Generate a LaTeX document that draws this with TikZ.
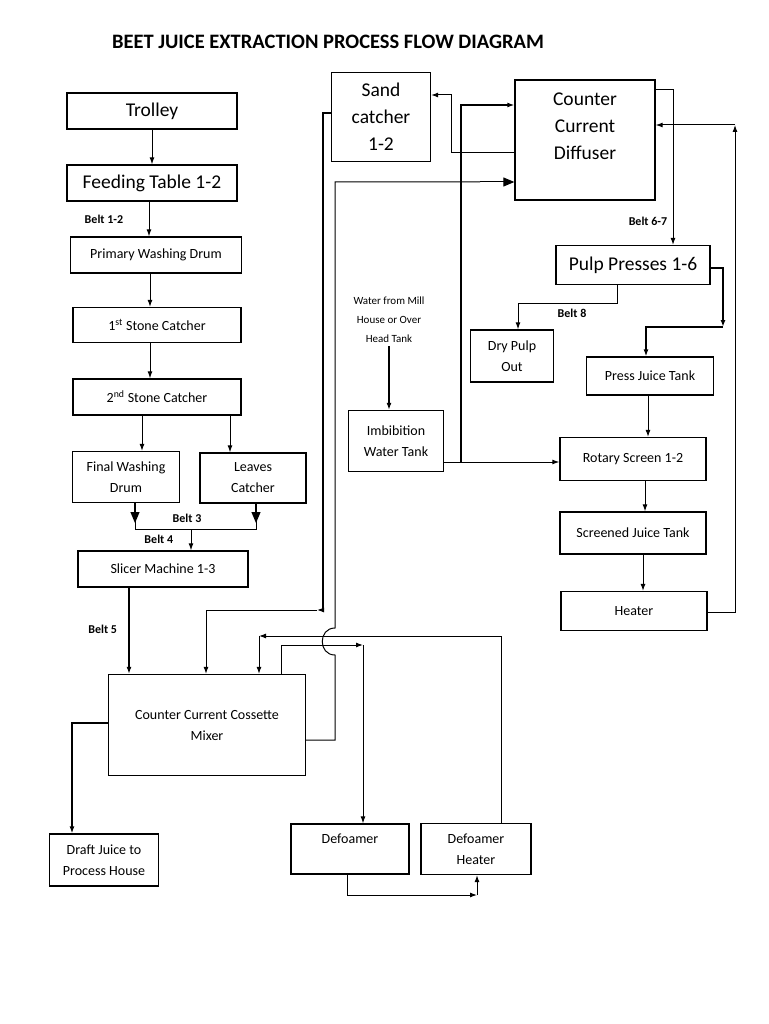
\documentclass[tikz,border=0pt]{standalone}
\usepackage{fontspec}
\setmainfont{Carlito}
\usetikzlibrary{arrows.meta}
\tikzset{
  box/.style={draw, line width=1.3pt, align=center, inner sep=2pt, font=\fontsize{14}{21}\selectfont},
  bigbox/.style={box, font=\fontsize{19.5}{27}\selectfont},
  lbl/.style={font=\bfseries\fontsize{12}{13}\selectfont},
  flow/.style={-{Latex[length=7pt,width=5pt]}, line width=1pt},
  belt/.style={-{Triangle[length=11pt,width=9pt]}, line width=1.2pt}
}
\newcommand{\bx}[6][box]{\node[#1, minimum width=#4pt, minimum height=#5pt] (#2) at #3 {#6};}
\begin{document}
\begin{tikzpicture}[x=1pt, y=-1pt]
        \useasboundingbox (0,0) rectangle (768,1024);
        % Titulo
        \node[font=\bfseries\fontsize{20.5}{22}\selectfont] (title) at (328,42) {BEET JUICE EXTRACTION PROCESS FLOW DIAGRAM};
        % Coluna esquerda
        \bx[bigbox]{trolley}{(152,111)}{170}{36}{Trolley}
        \bx[bigbox]{feed}{(152,183)}{170}{36}{Feeding Table 1-2}
        \bx{prim}{(156,255)}{171}{36}{Primary Washing Drum}
        \bx{stone1}{(157,325)}{168}{35}{1\textsuperscript{st} Stone Catcher}
        \bx{stone2}{(157,397)}{168}{36}{2\textsuperscript{nd} Stone Catcher}
        \bx{final}{(126,477)}{107}{51}{Final Washing\\Drum}
        \bx{leaves}{(253,478)}{106}{50}{Leaves\\Catcher}
        \bx{slicer}{(163,569)}{170}{36}{Slicer Machine 1-3}
        \bx{mixer}{(207,725)}{197}{101}{Counter Current Cossette\\Mixer}
        \bx{draft}{(104,860)}{109}{52}{Draft Juice to\\Process House}
        \bx{defoam}{(350,849)}{118}{50}{Defoamer\\\phantom{X}}
        \bx{dheater}{(476,849)}{110}{51}{Defoamer\\Heater}
        % Coluna direita
        \bx[bigbox]{sand}{(381,117)}{99}{89}{Sand\\catcher\\1-2}
        \bx[bigbox]{diffuser}{(585,140)}{140}{120}{Counter\\Current\\Diffuser\\\phantom{X}}
        \bx[bigbox]{presses}{(633,265)}{154}{39}{Pulp Presses 1-6}
        \bx{drypulp}{(512,356)}{83}{52}{Dry Pulp\\Out}
        \bx{pjtank}{(650,376)}{127}{38}{Press Juice Tank}
        \bx{imbib}{(396,441)}{95}{61}{Imbibition\\Water Tank}
        \bx{rotary}{(633,459)}{146}{43}{Rotary Screen 1-2}
        \bx{sjtank}{(633,533)}{146}{42}{Screened Juice Tank}
        \bx{heater}{(634,611)}{146}{39}{Heater}
        \node[align=center, font=\fontsize{11}{19}\selectfont] (water) at (389,320) {Water from Mill\\House or Over\\Head Tank};
        % Esteiras
        \draw[flow] (trolley.south) -- (feed.north);
        \draw[flow] (feed.south -| 149,0) -- (prim.north -| 149,0) node[lbl, midway, left=22pt] {Belt 1-2};
        \draw[flow] (prim.south -| 150,0) -- (stone1.north -| 150,0);
        \draw[flow] (stone1.south -| 150,0) -- (stone2.north -| 150,0);
        \draw[flow] (stone2.south -| 142,0) -- (final.north -| 142,0);
        \draw[flow] (stone2.south -| 230,0) -- (leaves.north -| 230,0);
        \coordinate (b3l) at (135,529);
        \coordinate (b3r) at (256,529);
        \draw[belt] (final.south -| b3l) -- (135,523);
        \draw[belt] (leaves.south -| b3r) -- (256,523);
        \draw[line width=0.8pt] (135,521) -- (b3l) -- (b3r) -- (256,521);
        \node[lbl] (belt3) at (187,518) {Belt 3};
        \draw[flow] (191,529) -- (slicer.north -| 191,0) node[lbl, midway, left=14pt] {Belt 4};
        \draw[flow, line width=1.4pt] (slicer.south -| 129,0) -- (mixer.north -| 129,0) node[lbl, pos=0.48, left=8pt] {Belt 5};
        % Areia para o misturador
        \coordinate (sandturn) at (323,610);
        \draw[line width=1.4pt] (sand.west |- 0,113) -- (323,113) -- (sandturn);
        \draw[flow] (sandturn) -- (317,610);
        \draw[flow] (317,610) -- (206,610) -- (mixer.north -| 206,0);
        % Misturador para o difusor (com salto)
        \draw[line width=1pt] (mixer.east |- 0,740) -- (335,740) -- (335,655) .. controls (318,655) and (318,628) .. (335,628) -- (335,182) -- (480,182);
        \draw[-{Triangle[length=11pt,width=9pt]}, line width=1pt] (480,182) -- (diffuser.west |- 0,182);
        % Aquecedor do antiespumante
        \draw[line width=1pt] (dheater.north -| 501,0) -- (501,636) -- (300,636);
        \draw[flow] (300,636) -- (259,636);
        \draw[flow] (259,636) -- (mixer.north -| 259,0);
        \draw[flow] (mixer.north -| 281,0) -- (281,645) -- (363,645);
        \draw[flow] (363,645) -- (defoam.north -| 363,0);
        \draw[flow] (defoam.south -| 347,0) -- (347,895) -- (477,895);
        \draw[flow] (477,895) -- (dheater.south -| 477,0);
        % Caldo de difusao
        \draw[flow, line width=1.4pt] (mixer.west |- 0,723) -- (72,723) -- (draft.north -| 72,0);
        % Difusor
        \draw[flow] (diffuser.west |- 0,153) -- (451,153) -- (451,95) -- (sand.east |- 0,95);
        \draw[flow, line width=1.4pt] (water.south) -- (imbib.north -| water.south);
        \draw[flow] (imbib.east |- 0,462) -- (rotary.west |- 0,462);
        \draw[flow, line width=1.4pt] (461,462) -- (461,105) -- (diffuser.west |- 0,105);
        \draw[flow] (diffuser.east |- 0,90) -- (673,90) -- (presses.north -| 673,0) node[lbl, pos=0.85, left=2pt] {Belt 6-7};
        \draw[flow] (presses.south -| 617,0) -- (617,303) -- (518,303) -- (drypulp.north -| 518,0);
        \node[lbl] (belt8) at (572,313) {Belt 8};
        \draw[flow, line width=1.4pt] (presses.east |- 0,268) -- (723,268) -- (723,327);
        \draw[flow, line width=1.4pt] (723,327) -- (646,327) -- (pjtank.north -| 646,0);
        \draw[flow] (pjtank.south -| 648,0) -- (rotary.north -| 648,0);
        \draw[flow] (rotary.south -| 645,0) -- (sjtank.north -| 645,0);
        \draw[flow] (sjtank.south -| 643,0) -- (heater.north -| 643,0);
        \draw[flow] (heater.east |- 0,612) -- (735,612) -- (735,125);
        \draw[flow] (735,125) -- (diffuser.east |- 0,125);
    \end{tikzpicture}
\end{document}
